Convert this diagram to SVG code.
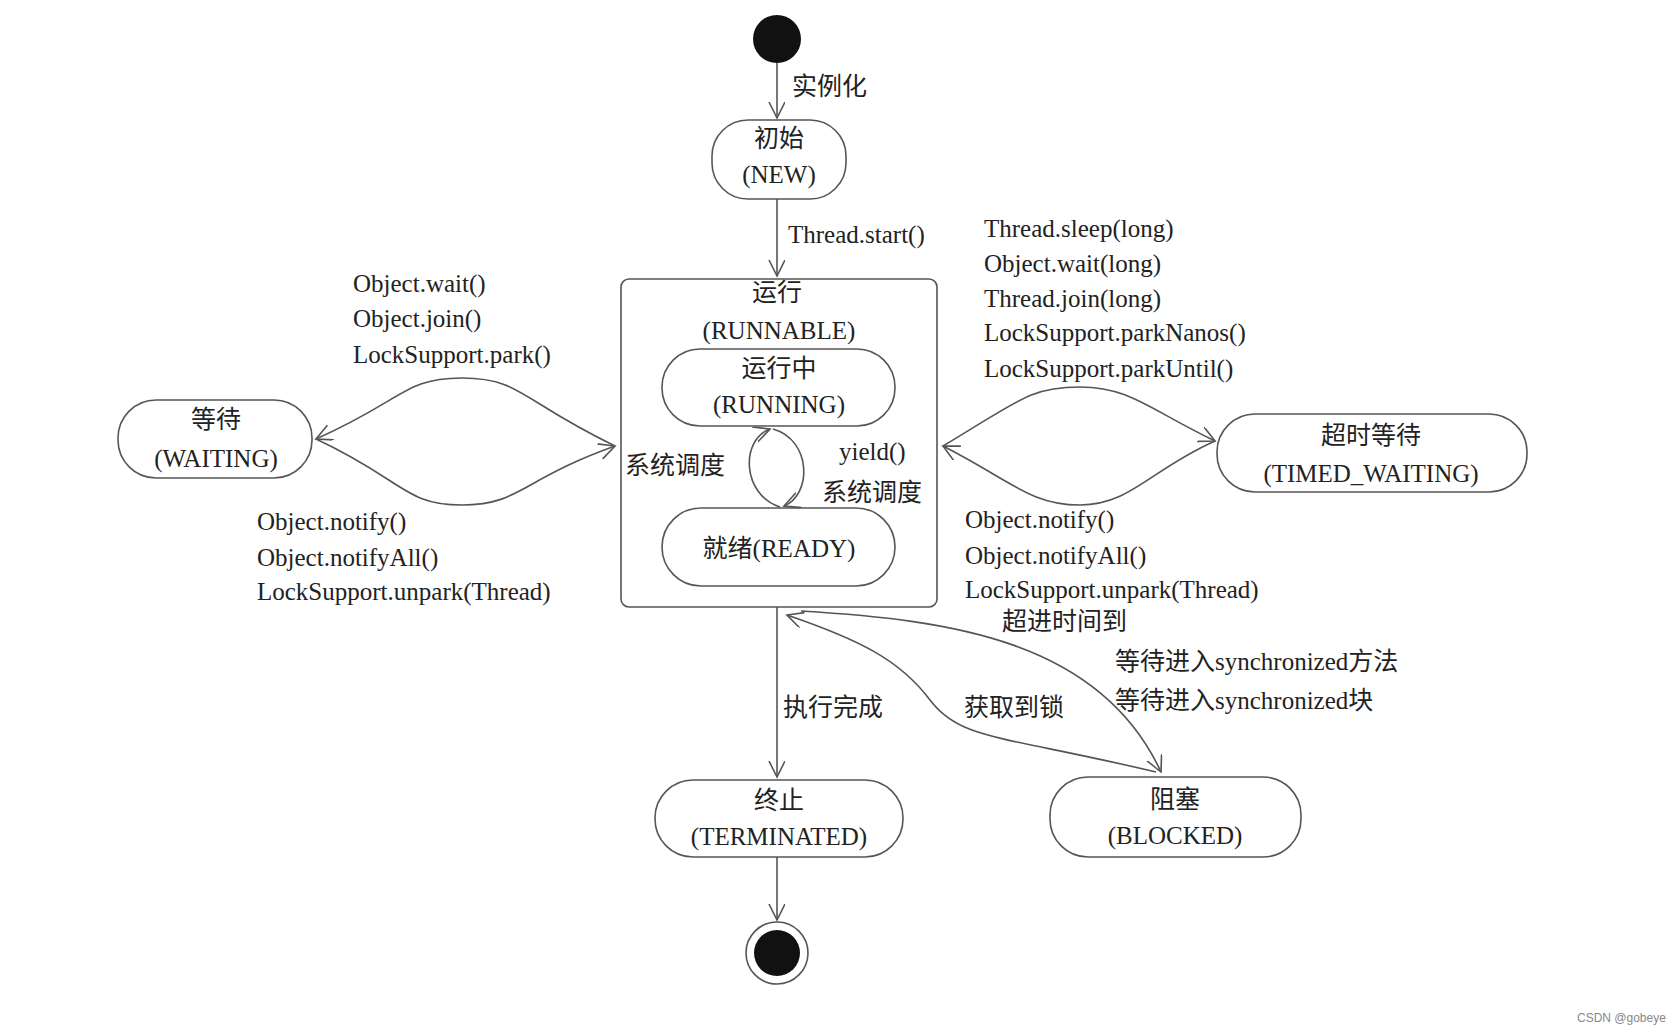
<svg xmlns="http://www.w3.org/2000/svg" width="1677" height="1030" viewBox="0 0 1677 1030">
<style>
text{font-family:"Liberation Serif","Noto Sans CJK SC",serif;font-size:25px;fill:#222}
.c{text-anchor:middle}
.n{fill:#fff;stroke:#555;stroke-width:1.6}
.e{fill:none;stroke:#555;stroke-width:1.6}
</style>
<defs>
<marker id="a" markerWidth="20" markerHeight="20" refX="16" refY="8" orient="auto" markerUnits="userSpaceOnUse"><polyline points="0,0 16,8 0,16" fill="none" stroke="#555" stroke-width="1.6"/></marker>
</defs>
<rect width="1677" height="1030" fill="#fff"/>
<g id="start"><circle cx="777" cy="39" r="24" fill="#111"/></g>
<g id="new"><rect class="n" x="712" y="120" width="134" height="79" rx="36"/><text class="c" x="779" y="147">初始</text><text class="c" x="779" y="183">(NEW)</text></g>
<g id="runnable"><rect class="n" x="621" y="279" width="316" height="328" rx="8"/><text class="c" x="777" y="301">运行</text><text class="c" x="779" y="339">(RUNNABLE)</text></g>
<g id="running"><rect class="n" x="662" y="349" width="233" height="77" rx="38"/><text class="c" x="779" y="377">运行中</text><text class="c" x="779" y="413">(RUNNING)</text></g>
<g id="ready"><rect class="n" x="662" y="508" width="233" height="78" rx="39"/><text class="c" x="779" y="557">就绪(READY)</text></g>
<g id="waiting"><rect class="n" x="118" y="400" width="194" height="78" rx="38"/><text class="c" x="216" y="428">等待</text><text class="c" x="216" y="467">(WAITING)</text></g>
<g id="timed"><rect class="n" x="1217" y="414" width="310" height="78" rx="38"/><text class="c" x="1371" y="444">超时等待</text><text class="c" x="1371" y="482">(TIMED_WAITING)</text></g>
<g id="terminated"><rect class="n" x="655" y="780" width="248" height="77" rx="38"/><text class="c" x="779" y="809">终止</text><text class="c" x="779" y="845">(TERMINATED)</text></g>
<g id="blocked"><rect class="n" x="1050" y="777" width="251" height="80" rx="38"/><text class="c" x="1175" y="808">阻塞</text><text class="c" x="1175" y="844">(BLOCKED)</text></g>
<g id="end"><circle cx="777" cy="953" r="31" fill="#fff" stroke="#555" stroke-width="1.6"/><circle cx="777" cy="953" r="23" fill="#111"/></g>
<g id="connectors">
<path class="e" d="M777,63 V118" marker-end="url(#a)"/>
<path class="e" d="M777,199 V276" marker-end="url(#a)"/>
<path class="e" d="M615,446 C520,400 520,378 462,378 C404,378 404,400 316,439" marker-end="url(#a)"/>
<path class="e" d="M316,439 C404,480 404,505 462,505 C520,505 520,480 615,446" marker-end="url(#a)"/>
<path class="e" d="M943,446 C1020,400 1030,387 1080,387 C1130,387 1150,410 1215,441" marker-end="url(#a)"/>
<path class="e" d="M1215,441 C1150,470 1130,505 1080,505 C1030,505 1010,480 943,446" marker-end="url(#a)"/>
<path class="e" d="M780,507 C742,495 740,440 770,429" marker-end="url(#a)"/>
<path class="e" d="M773,429 C812,440 812,495 784,506" marker-end="url(#a)"/>
<path class="e" d="M777,607 V777" marker-end="url(#a)"/>
<path class="e" d="M801,611 C950,620 1100,640 1161,772" marker-end="url(#a)"/>
<path class="e" d="M1156,772 C1000,735 960,740 930,700 C900,660 860,640 787,615" marker-end="url(#a)"/>
<path class="e" d="M777,857 V920" marker-end="url(#a)"/>
</g>
<g id="labels">
<text x="792" y="95">实例化</text>
<text x="788" y="243">Thread.start()</text>
<text x="353" y="292">Object.wait()</text>
<text x="353" y="327">Object.join()</text>
<text x="353" y="363">LockSupport.park()</text>
<text x="257" y="530">Object.notify()</text>
<text x="257" y="566">Object.notifyAll()</text>
<text x="257" y="600">LockSupport.unpark(Thread)</text>
<text x="984" y="237">Thread.sleep(long)</text>
<text x="984" y="272">Object.wait(long)</text>
<text x="984" y="307">Thread.join(long)</text>
<text x="984" y="341">LockSupport.parkNanos()</text>
<text x="984" y="377">LockSupport.parkUntil()</text>
<text x="965" y="528">Object.notify()</text>
<text x="965" y="564">Object.notifyAll()</text>
<text x="965" y="598">LockSupport.unpark(Thread)</text>
<text x="625" y="474">系统调度</text>
<text x="839" y="460">yield()</text>
<text x="822" y="501">系统调度</text>
<text x="1002" y="630">超进时间到</text>
<text x="783" y="716">执行完成</text>
<text x="964" y="716">获取到锁</text>
<text x="1115" y="670">等待进入synchronized方法</text>
<text x="1115" y="709">等待进入synchronized块</text>
<text x="1577" y="1022" style="font-family:'Liberation Sans',sans-serif;font-size:12px;fill:#888">CSDN @gobeye</text>
</g>
</svg>
